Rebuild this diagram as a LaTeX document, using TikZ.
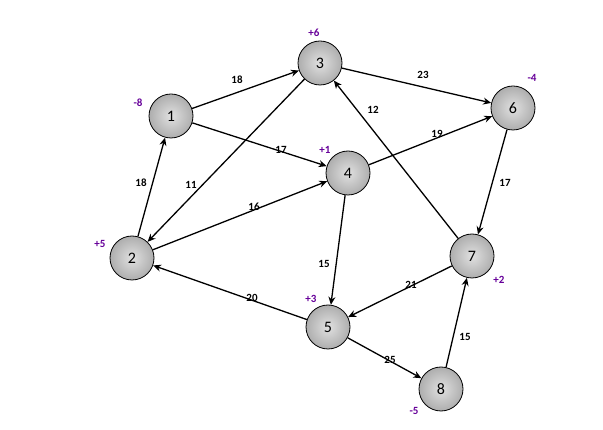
\documentclass[tikz,border=0pt]{standalone}
\usepackage{fontspec}
\setmainfont{Carlito}
\usetikzlibrary{arrows.meta}
\begin{document}
\begin{tikzpicture}[x=1pt,y=-1pt,
  v/.style={circle,draw,thick,minimum size=44pt,inner sep=0pt,ball color=black!20,shading=ball,font=\fontsize{16}{16}\selectfont},
  e/.style={-{Stealth[length=8pt,width=7pt]},line width=1.3pt},
  w/.style={font=\bfseries\fontsize{11}{11}\selectfont},
  s/.style={font=\bfseries\fontsize{11}{11}\selectfont,text=violet!80!blue}]
\useasboundingbox (0,0) rectangle (603,430);
\tikzset{v/.append style={shading=radial,inner color=black!12,outer color=black!32}}
\node[v] (1) at (171,116) {1};
\node[v] (2) at (132,258) {2};
\node[v] (3) at (320,63) {3};
\node[v] (4) at (348,173) {4};
\node[v] (5) at (328,327) {5};
\node[v] (6) at (513,108) {6};
\node[v] (7) at (472,256) {7};
\node[v] (8) at (441,389) {8};
\draw[e] (1) -- (3);
\draw[e] (1) -- (4);
\draw[e] (2) -- (1);
\draw[e] (3) -- (2);
\draw[e] (2) -- (4);
\draw[e] (3) -- (6);
\draw[e] (4) -- (6);
\draw[e] (4) -- (5);
\draw[e] (5) -- (2);
\draw[e] (7) -- (3);
\draw[e] (6) -- (7);
\draw[e] (7) -- (5);
\draw[e] (5) -- (8);
\draw[e] (8) -- (7);
\node[w] (l13) at (237,80) {18};
\node[w] (l14) at (281,150) {17};
\node[w] (l21) at (141,183) {18};
\node[w] (l32) at (191,185) {11};
\node[w] (l24) at (254,207) {16};
\node[w] (l36) at (423,75) {23};
\node[w] (l46) at (437,134) {19};
\node[w] (l73) at (373,110) {12};
\node[w] (l67) at (505,183) {17};
\node[w] (l45) at (324,264) {15};
\node[w] (l75) at (411,285) {21};
\node[w] (l52) at (252,298) {20};
\node[w] (l58) at (390,360) {25};
\node[w] (l87) at (465,337) {15};
\node[s] (s3) at (314,33) {+6};
\node[s] (s1) at (138,103) {-8};
\node[s] (s6) at (532,78) {-4};
\node[s] (s4) at (325,150) {+1};
\node[s] (s2) at (100,244) {+5};
\node[s] (s5) at (311,299) {+3};
\node[s] (s7) at (499,280) {+2};
\node[s] (s8) at (414,411) {-5};
\end{tikzpicture}
\end{document}
